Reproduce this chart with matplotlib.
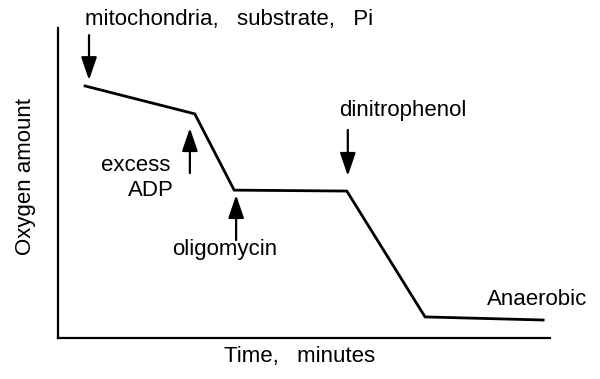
import matplotlib
matplotlib.use("Agg")
import matplotlib.pyplot as plt

plt.rcParams['font.family'] = ['Liberation Sans', 'DejaVu Sans']

# oxygen trace (arbitrary units, time 0-100, oxygen 0-100)
time = [5.5, 27.8, 35.8, 58.7, 74.6, 98.6]
oxygen = [81.3, 72.3, 47.7, 47.4, 6.8, 5.8]

# additions: (tail, tip) of each arrow
arrows = [
    ((6.3, 97.7), (6.3, 83.2)),    # mitochondria, substrate, Pi
    ((26.8, 53.2), (26.8, 67.7)),  # excess ADP
    ((36.2, 31.6), (36.2, 46.1)),  # oligomycin
    ((58.9, 67.1), (58.9, 52.3)),  # dinitrophenol
]

fig = plt.figure(figsize=(6, 3.79), dpi=100)
ax = fig.add_axes([0.0967, 0.1082, 0.82, 0.8179])
ax.plot(time, oxygen, color='black', lw=2.0, solid_joinstyle='miter')
ax.set_xlim(0, 100)
ax.set_ylim(0, 100)

for s in ['top', 'right']:
    ax.spines[s].set_visible(False)
for s in ['left', 'bottom']:
    ax.spines[s].set_linewidth(1.6)
ax.set_xticks([])
ax.set_yticks([])

for tail, tip in arrows:
    ax.annotate('', xy=tip, xytext=tail,
                arrowprops=dict(arrowstyle='-|>,head_length=0.7,head_width=0.24',
                                color='black', lw=1.6, mutation_scale=20,
                                shrinkA=0, shrinkB=0))

fs = 16
ax.text(5.5, 102.9, 'mitochondria,   substrate,   Pi', fontsize=fs, ha='left', va='center', clip_on=False)
ax.text(57.1, 73.5, 'dinitrophenol', fontsize=fs, ha='left', va='center')
ax.text(22.8, 55.5, 'excess', fontsize=fs, ha='right', va='center')
ax.text(23.6, 47.7, 'ADP', fontsize=fs, ha='right', va='center')
ax.text(33.9, 28.4, 'oligomycin', fontsize=fs, ha='center', va='center')
ax.text(87.2, 12.3, 'Anaerobic', fontsize=fs, ha='left', va='center')
ax.text(49, -6.1, 'Time,   minutes', fontsize=fs, ha='center', va='center', clip_on=False)
ax.text(-6.7, 52.0, 'Oxygen amount', fontsize=fs, ha='center', va='center', rotation=90, clip_on=False)

fig.savefig('out.png', dpi=100)
